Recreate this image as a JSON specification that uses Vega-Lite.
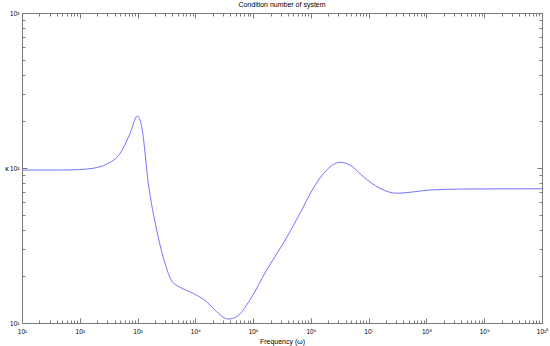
{
  "$schema": "https://vega.github.io/schema/vega-lite/v6.json",
  "width": 520,
  "height": 310,
  "autosize": {"type": "none"},
  "padding": {"left": 22, "top": 13, "right": 8, "bottom": 23},
  "background": "white",
  "title": {"text": "Condition number of system", "font": "Liberation Sans", "fontSize": 7, "fontWeight": "normal", "color": "#000", "anchor": "middle", "offset": 2},
  "config": {
    "view": {"stroke": null},
    "axis": {"labelFont": "Liberation Sans", "titleFont": "Liberation Sans", "labelColor": "#000", "titleColor": "#000", "domainColor": "#7a7a7a", "tickColor": "#7a7a7a", "grid": false, "labelFontSize": 6.5, "titleFontSize": 7, "titleFontWeight": "normal", "labelOverlap": false, "labelFlush": false}
  },
  "data": {"values": [
    {"f": 10, "k": 97.0},
    {"f": 45.7, "k": 97.0},
    {"f": 100, "k": 97.8},
    {"f": 171, "k": 99.6},
    {"f": 292, "k": 106},
    {"f": 497, "k": 124},
    {"f": 740, "k": 167},
    {"f": 989, "k": 216},
    {"f": 1180, "k": 185},
    {"f": 1535, "k": 79.6},
    {"f": 2143, "k": 39.8},
    {"f": 2985, "k": 24.3},
    {"f": 3899, "k": 18.7},
    {"f": 5433, "k": 17.0},
    {"f": 9226, "k": 15.5},
    {"f": 15740, "k": 13.7},
    {"f": 21880, "k": 12.1},
    {"f": 37150, "k": 10.6},
    {"f": 52000, "k": 11.0},
    {"f": 88300, "k": 14.1},
    {"f": 171800, "k": 22.0},
    {"f": 332700, "k": 32.7},
    {"f": 647000, "k": 51.0},
    {"f": 1100000, "k": 74.0},
    {"f": 1875000, "k": 97.0},
    {"f": 3190000, "k": 108.8},
    {"f": 4750000, "k": 104.5},
    {"f": 8070000, "k": 87.9},
    {"f": 15700000, "k": 74.0},
    {"f": 30500000, "k": 68.7},
    {"f": 115000000, "k": 72.1},
    {"f": 435000000, "k": 73.2},
    {"f": 10000000000, "k": 73.5}
  ]},
  "resolve": {"axis": {"x": "independent", "y": "independent"}},
  "layer": [
    {
      "mark": {"type": "line", "color": "#7373ff", "strokeWidth": 1, "interpolate": "monotone", "clip": true},
      "encoding": {
        "x": {"field": "f", "type": "quantitative", "scale": {"type": "log", "domain": [10, 10000000000], "nice": false},
          "axis": {"orient": "bottom", "title": "Frequency (ω)", "titlePadding": 1,
            "values": [10,20,30,40,50,60,70,80,90,100,200,300,400,500,600,700,800,900,1000,2000,3000,4000,5000,6000,7000,8000,9000,10000,20000,30000,40000,50000,60000,70000,80000,90000,100000,200000,300000,400000,500000,600000,700000,800000,900000,1000000,2000000,3000000,4000000,5000000,6000000,7000000,8000000,9000000,10000000,20000000,30000000,40000000,50000000,60000000,70000000,80000000,90000000,100000000,200000000,300000000,400000000,500000000,600000000,700000000,800000000,900000000,1000000000,2000000000,3000000000,4000000000,5000000000,6000000000,7000000000,8000000000,9000000000,10000000000],
            "tickSize": {"condition": {"test": "abs(log(datum.value)/LN10 - round(log(datum.value)/LN10)) < 0.001", "value": -5}, "value": -3},
            "labelPadding": 10,
            "labelExpr": "abs(log(datum.value)/LN10 - round(log(datum.value)/LN10)) < 0.001 ? '10' + ['⁰','¹','²','³','⁴','⁵','⁶','⁷','⁸','⁹','¹⁰'][round(log(datum.value)/LN10)] : ''"}},
        "y": {"field": "k", "type": "quantitative", "scale": {"type": "log", "domain": [10, 1000], "nice": false},
          "axis": {"orient": "left", "title": "κ", "titleAngle": 0, "titleAlign": "center", "titleBaseline": "middle", "titlePadding": 3,
            "values": [10,20,30,40,50,60,70,80,90,100,200,300,400,500,600,700,800,900,1000],
            "tickSize": {"condition": {"test": "abs(log(datum.value)/LN10 - round(log(datum.value)/LN10)) < 0.001", "value": -5}, "value": -3},
            "labelPadding": 8,
            "labelExpr": "abs(log(datum.value)/LN10 - round(log(datum.value)/LN10)) < 0.001 ? '10' + ['⁰','¹','²','³','⁴','⁵','⁶','⁷','⁸','⁹','¹⁰'][round(log(datum.value)/LN10)] : ''"}}
      }
    },
    {
      "mark": {"type": "line", "opacity": 0},
      "encoding": {
        "x": {"field": "f", "type": "quantitative", "scale": {"type": "log", "domain": [10, 10000000000], "nice": false},
          "axis": {"orient": "top", "title": null, "labels": false,
            "values": [10,20,30,40,50,60,70,80,90,100,200,300,400,500,600,700,800,900,1000,2000,3000,4000,5000,6000,7000,8000,9000,10000,20000,30000,40000,50000,60000,70000,80000,90000,100000,200000,300000,400000,500000,600000,700000,800000,900000,1000000,2000000,3000000,4000000,5000000,6000000,7000000,8000000,9000000,10000000,20000000,30000000,40000000,50000000,60000000,70000000,80000000,90000000,100000000,200000000,300000000,400000000,500000000,600000000,700000000,800000000,900000000,1000000000,2000000000,3000000000,4000000000,5000000000,6000000000,7000000000,8000000000,9000000000,10000000000],
            "tickSize": {"condition": {"test": "abs(log(datum.value)/LN10 - round(log(datum.value)/LN10)) < 0.001", "value": -5}, "value": -3}}},
        "y": {"field": "k", "type": "quantitative", "scale": {"type": "log", "domain": [10, 1000], "nice": false},
          "axis": {"orient": "right", "title": null, "labels": false,
            "values": [10,20,30,40,50,60,70,80,90,100,200,300,400,500,600,700,800,900,1000],
            "tickSize": {"condition": {"test": "abs(log(datum.value)/LN10 - round(log(datum.value)/LN10)) < 0.001", "value": -5}, "value": -3}}}
      }
    }
  ]
}
